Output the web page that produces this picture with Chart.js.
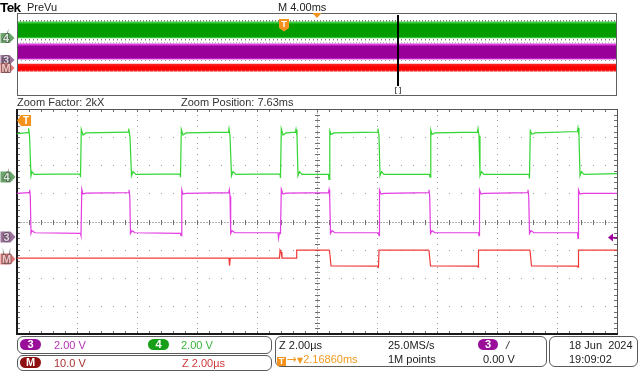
<!DOCTYPE html>
<html><head><meta charset="utf-8">
<script src="https://cdn.jsdelivr.net/npm/chart.js@4.4.1/dist/chart.umd.min.js"></script>
<style>
html,body{margin:0;padding:0;background:#fff;}
body{width:640px;height:384px;position:relative;overflow:hidden;font-family:"Liberation Sans",Arial,sans-serif;font-size:11px;color:#222;}
canvas{position:absolute;left:0;top:0;}
.t{position:absolute;white-space:nowrap;line-height:11px;font-size:11px;}
.box{position:absolute;border:1px solid #5a5a5a;border-radius:6px;box-sizing:border-box;}
.pill{position:absolute;height:11px;border-radius:6px;color:#fff;font-weight:bold;font-size:11px;line-height:11px;text-align:center;}
</style></head><body>
<canvas id="ov" width="640" height="384"></canvas>
<canvas id="main" width="640" height="384"></canvas>

<div class="t" style="left:0;top:0.5px;font-size:13.5px;line-height:13.5px;font-weight:bold;letter-spacing:-0.6px;color:#000">Tek</div>
<div class="t" style="left:27px;top:1.7px">PreVu</div>
<div class="t" style="left:278px;top:1.7px">M 4.00ms</div>
<div class="t" style="left:17px;top:96.7px;color:#333">Zoom Factor: 2kX</div>
<div class="t" style="left:181px;top:96.7px;color:#333">Zoom Position: 7.63ms</div>

<div class="box" style="left:17px;top:336px;width:255px;height:18px"></div>
<div class="box" style="left:17px;top:355px;width:255px;height:16px"></div>
<div class="box" style="left:275px;top:336px;width:272px;height:31px"></div>
<div class="box" style="left:549px;top:336px;width:89px;height:31px"></div>

<div class="pill" style="left:20px;top:339px;width:21px;background:#9a0e9a">3</div>
<div class="t" style="left:54px;top:339.7px;color:#b533b5">2.00 V</div>
<div class="pill" style="left:148px;top:339px;width:21px;background:#17a017">4</div>
<div class="t" style="left:181px;top:339.7px;color:#36b336">2.00 V</div>

<div class="pill" style="left:20px;top:357px;width:21px;background:#8e1010">M</div>
<div class="t" style="left:54px;top:357.7px;color:#a83030">10.0 V</div>
<div class="t" style="left:182px;top:357.7px;color:#cf3a3a">Z 2.00µs</div>

<div class="t" style="left:279px;top:339.7px">Z 2.00µs</div>
<div class="t" style="left:277px;top:353.7px;color:#f29a1e"><span style="display:inline-block;width:9px;height:9px;background:#f5921e;color:#fff;font-weight:bold;font-size:9px;line-height:9px;text-align:center;vertical-align:-1px">T</span><span style="display:inline-block;width:11px;font-family:'DejaVu Sans';font-size:12px;line-height:11px;text-align:center">→</span><span style="font-family:'DejaVu Sans';font-size:8px">▼</span>2.16860ms</div>
<div class="t" style="left:388px;top:339.7px">25.0MS/s</div>
<div class="t" style="left:388px;top:353.7px">1M points</div>
<div class="pill" style="left:478px;top:338.5px;width:20px;background:#9a0e9a">3</div>
<div class="t" style="left:506px;top:339.7px;font-style:italic">/</div>
<div class="t" style="left:483px;top:353.7px">0.00 V</div>

<div class="t" style="left:569px;top:339.7px">18 Jun&nbsp;&nbsp;2024</div>
<div class="t" style="left:569px;top:353.7px">19:09:02</div>

<script>
// ---------- DATA ----------
// Zoomed acquisition window: time in µs from left edge (2 µs/div, 10 div)
const ch4Time = [0,0.367,0.39,0.417,0.467,0.5,0.567,2.1,2.117,2.143,2.2,2.3,3.7,3.723,3.767,3.817,3.867,3.967,5.433,5.45,5.477,5.533,5.633,7.05,7.067,7.1,7.15,7.2,7.3,8.767,8.783,8.81,8.867,8.967,9.283,9.3,9.333,9.367,9.417,9.5,10.383,10.4,10.427,10.467,10.567,12.017,12.033,12.067,12.1,12.15,12.233,13.75,13.767,13.793,13.833,13.933,15.35,15.367,15.4,15.433,15.483,15.567,17.067,17.083,17.11,17.167,17.267,18.683,18.7,18.733,18.767,18.817,18.9,20];
const ch4Volt = [3.05,3.12,3.43,2.9,0.05,0.35,0.15,0.18,-0.05,3.35,2.95,3.1,3.15,3.4,2.8,0.05,0.35,0.15,0.18,-0.05,3.35,2.95,3.1,3.15,3.4,2.9,0.05,0.35,0.15,0.18,-0.1,3.4,2.95,3.1,3.15,3.35,2.9,0.05,0.35,0.15,0.15,-0.2,3.25,3.0,3.1,3.15,3.4,2.9,0.05,0.35,0.15,0.15,-0.05,3.3,3.0,3.1,3.15,3.4,2.9,0.05,0.35,0.15,0.15,-0.15,3.25,3.0,3.1,3.2,3.45,2.9,0.05,0.35,0.15,0.2];

const ch3Time = [0,0.4,0.423,0.443,0.467,0.5,0.6,2.117,2.133,2.16,2.2,2.3,3.717,3.733,3.76,3.783,3.833,3.933,5.45,5.467,5.493,5.533,5.633,7.057,7.077,7.1,7.123,7.167,7.267,8.7,8.717,8.75,8.783,8.81,8.867,8.967,10.383,10.4,10.423,10.45,10.5,10.6,12.05,12.067,12.083,12.133,12.233,13.717,13.733,13.757,13.783,13.833,13.933,15.383,15.4,15.417,15.467,15.567,17.017,17.033,17.057,17.083,17.133,17.233,18.683,18.7,18.717,18.767,18.867,20];
const ch3Volt = [3.1,3.15,3.35,2.9,0.25,0.45,0.3,0.25,0.1,3.4,3.05,3.12,3.15,3.35,2.9,0.25,0.45,0.3,0.25,0.1,3.35,3.05,3.1,3.15,3.35,2.9,0.25,0.45,0.3,0.3,-0.1,0.3,0.25,3.4,3.05,3.12,3.15,3.35,2.9,0.25,0.45,0.3,0.3,0.1,3.35,3.05,3.1,3.15,3.35,2.9,0.25,0.45,0.3,0.3,0.1,3.35,3.05,3.1,3.15,3.35,2.9,0.25,0.45,0.3,0.3,-0.1,3.35,3.05,3.1,3.1];

const mathTime = [0,7.067,7.083,7.11,8.75,8.767,8.8,8.833,9.3,9.323,10.4,10.417,10.467,12.033,12.05,12.067,13.717,13.733,13.783,15.35,15.367,15.383,17.083,17.1,17.15,18.683,18.7,18.717,20];
const mathVolt = [0.25,0.25,-2.4,0.25,0.25,3.2,2.5,0.25,0.3,3.1,3.1,3.0,-2.5,-2.6,-2.9,3.1,3.1,3.0,-2.5,-2.6,-2.9,3.1,3.1,3.0,-2.5,-2.6,-2.9,3.1,3.1];

// Overview (PreVu) record: time in ms relative to trigger (4 ms/div)
const ovTimeRange = [-17.8, 22.2];
const ch4Band = [0.2, 3.1];     const ch4Envelope = [-0.3, 3.45];
const ch3Band = [0.3, 3.1];     const ch3Envelope = [-0.1, 3.4];
const mathBand = [-2.5, 3.1];   const mathEnvelope = [-3.0, null];
const zoomPositionMs = 7.63;
const triggerLevelV = 0.0;

// Vertical settings (V/div) and ground offsets (div above centre)
const voltsPerDiv = {y3: 2.0, y4: 2.0, yM: 10.0};
const groundDiv   = {y3: -0.55, y4: 1.6, yM: -1.33};

// ---------- CHART HELPERS ----------
function yScale(id){
  const v = voltsPerDiv[id], g = groundDiv[id];
  return {type:'linear', display:false, min:(-4-g)*v, max:(4-g)*v};
}
function pts(t, v){ return t.map((x,i)=>({x:x, y:v[i]})); }
function flat(range, y){ return [{x:range[0],y:y},{x:range[1],y:y}]; }

function marker(ctx, x0, y, w, h, fill, txt, label){
  const tip = 5;
  ctx.beginPath();
  ctx.moveTo(x0, y-h/2); ctx.lineTo(x0+w-tip, y-h/2); ctx.lineTo(x0+w, y);
  ctx.lineTo(x0+w-tip, y+h/2); ctx.lineTo(x0, y+h/2); ctx.closePath();
  ctx.fillStyle = fill; ctx.fill();
  ctx.font = 'bold 11px "Liberation Sans", Arial';
  ctx.textAlign = 'center'; ctx.textBaseline = 'middle';
  ctx.lineWidth = 2; ctx.strokeStyle = 'rgba(60,60,60,0.55)';
  ctx.strokeText(label, x0+(w-tip)/2+1, y+0.5);
  ctx.fillStyle = txt; ctx.fillText(label, x0+(w-tip)/2+1, y+0.5);
}

const ORANGE = '#f5921e';
const markerStyle = {
  y4: ['#6ca66c', '#d6e6d6', '4'],
  y3: ['#9a729a', '#e3d3e3', '3'],
  yM: ['#e07a7a', '#f4c4c4', 'M']
};

const mainPlugin = {
  id:'tekMain',
  beforeDatasetsDraw(chart){
    const {ctx, chartArea:a} = chart;
    const L=a.left, T=a.top, R=a.right, B=a.bottom, W=R-L, H=B-T, dx=W/10, dy=H/8;
    ctx.save();
    ctx.fillStyle = '#9a9a9a';
    for (let i=1;i<10;i++){ if(i===5) continue; const x=Math.round(L+i*dx);
      for (let k=1;k<40;k++) ctx.fillRect(x, Math.round(T+k*dy/5), 1, 1); }
    for (let j=1;j<8;j++){ if(j===4) continue; const y=Math.round(T+j*dy);
      for (let k=1;k<50;k++) ctx.fillRect(Math.round(L+k*dx/5), y, 1, 1); }
    const cx=Math.round(L+5*dx), cy=Math.round(T+4*dy);
    ctx.fillStyle = '#b0b0b0';
    for (let x=L; x<R; x+=3) ctx.fillRect(x, cy, 2, 1);
    for (let y=T; y<B; y+=3) ctx.fillRect(cx, y, 1, 2);
    ctx.fillStyle = '#707070';
    for (let k=1;k<50;k++){ const x=Math.round(L+k*dx/5); ctx.fillRect(x, cy-2, 1, 5);
      ctx.fillRect(x, T, 1, 3); ctx.fillRect(x, B-3, 1, 3); }
    for (let k=1;k<40;k++){ const y=Math.round(T+k*dy/5); ctx.fillRect(cx-2, y, 5, 1);
      ctx.fillRect(L, y, 3, 1); ctx.fillRect(R-3, y, 3, 1); }
    ctx.fillStyle = '#555';
    ctx.fillRect(L-1, T, W+1, 1); ctx.fillRect(R, T, 1, H+1);
    ctx.fillStyle = '#1a1a1a';
    ctx.fillRect(L-1, T, 2, H+1); ctx.fillRect(L-1, B-1, W+2, 2);
    ctx.restore();
  },
  afterDraw(chart){
    const {ctx, chartArea:a, scales} = chart;
    ctx.save();
    ['yM','y3','y4'].forEach(id=>{
      const y = Math.round(scales[id].getPixelForValue(0));
      const s = markerStyle[id];
      marker(ctx, 0.5, y, 15, 11, s[0], s[1], s[2]);
    });
    // trigger position (off-screen left) marker
    ctx.beginPath();
    ctx.moveTo(a.left, 120.5); ctx.lineTo(a.left+4, 115); ctx.lineTo(a.left+14, 115);
    ctx.lineTo(a.left+14, 126); ctx.lineTo(a.left+4, 126); ctx.closePath();
    ctx.fillStyle = ORANGE; ctx.fill();
    ctx.fillStyle = '#fff'; ctx.font = 'bold 10px "Liberation Sans", Arial';
    ctx.textAlign = 'center'; ctx.textBaseline = 'middle';
    ctx.fillText('T', a.left+9, 121);
    // trigger level marker on ch3
    const ty = Math.round(scales.y3.getPixelForValue(triggerLevelV));
    ctx.beginPath();
    ctx.moveTo(a.right-9, ty+0.5); ctx.lineTo(a.right-4, ty-3.5); ctx.lineTo(a.right-4, ty+4.5); ctx.closePath();
    ctx.fillStyle = '#a000a0'; ctx.fill();
    ctx.fillRect(a.right-4, ty, 4, 1.5);
    ctx.restore();
  }
};

const ovPlugin = {
  id:'tekOv',
  afterDraw(chart){
    const {ctx, chartArea:a, scales} = chart;
    ctx.save();
    ctx.strokeStyle = '#606060'; ctx.lineWidth = 1;
    ctx.strokeRect(a.left+0.5, a.top-0.5, a.right-a.left-1, a.bottom-a.top+1);
    // zoom window position line
    const zx = Math.round(scales.x.getPixelForValue(zoomPositionMs));
    ctx.fillStyle = '#000';
    ctx.fillRect(zx-1, a.top+1, 2, 71);
    ctx.font = '8px "Liberation Sans", Arial'; ctx.textAlign='center'; ctx.textBaseline='top';
    ctx.fillText('[ ]', zx, a.top+72);
    // trigger marker
    const tx = scales.x.getPixelForValue(0);
    ctx.beginPath();
    ctx.moveTo(tx-5, 19); ctx.lineTo(tx+5, 19); ctx.lineTo(tx+5, 28); ctx.lineTo(tx, 31.5); ctx.lineTo(tx-5, 28); ctx.closePath();
    ctx.fillStyle = ORANGE; ctx.fill();
    ctx.fillStyle = '#fff'; ctx.font = 'bold 9px "Liberation Sans", Arial'; ctx.textBaseline='middle';
    ctx.fillText('T', tx, 24.5);
    // horizontal position (centre) marker
    const cx = (a.left+a.right)/2;
    ctx.beginPath(); ctx.moveTo(cx-4.5, a.top-1); ctx.lineTo(cx+4.5, a.top-1); ctx.lineTo(cx, a.top+4); ctx.closePath();
    ctx.fillStyle = ORANGE; ctx.fill();
    // channel markers
    ['y3','yM','y4'].forEach(id=>{
      const y = Math.round(scales[id].getPixelForValue(0));
      const s = markerStyle[id];
      marker(ctx, 0.5, y, 14, 10, s[0], s[1], s[2]);
    });
    ctx.restore();
  }
};

const traceDefaults = {borderWidth:1.2, pointRadius:0, tension:0, fill:false};

new Chart(document.getElementById('main'), {
  type:'line',
  data:{datasets:[
    Object.assign({data:pts(mathTime, mathVolt), yAxisID:'yM', borderColor:'#f03a3a'}, traceDefaults),
    Object.assign({data:pts(ch3Time, ch3Volt), yAxisID:'y3', borderColor:'#e23ce2'}, traceDefaults),
    Object.assign({data:pts(ch4Time, ch4Volt), yAxisID:'y4', borderColor:'#33d633'}, traceDefaults)
  ]},
  options:{
    responsive:false, animation:false, events:[],
    layout:{padding:{left:17, top:109, right:23, bottom:50}},
    plugins:{legend:{display:false}, tooltip:{enabled:false}},
    scales:{
      x:{type:'linear', display:false, min:0, max:20},
      y3:yScale('y3'), y4:yScale('y4'), yM:yScale('yM')
    }
  },
  plugins:[mainPlugin]
});

function bandSets(band, env, id, fillCol, edgeCol, envCol){
  const sets = [];
  if (env[1] !== null) sets.push({data:flat(ovTimeRange, env[1]), yAxisID:id, borderColor:envCol, borderWidth:1, borderDash:[1,2], pointRadius:0, fill:false});
  if (env[0] !== null) sets.push({data:flat(ovTimeRange, env[0]), yAxisID:id, borderColor:envCol, borderWidth:1, borderDash:[1,3], pointRadius:0, fill:false});
  sets.push({data:flat(ovTimeRange, band[1]), yAxisID:id, borderColor:edgeCol, borderWidth:2, pointRadius:0, fill:'+1', backgroundColor:fillCol});
  sets.push({data:flat(ovTimeRange, band[0]), yAxisID:id, borderColor:edgeCol, borderWidth:2, pointRadius:0, fill:false});
  return sets;
}

new Chart(document.getElementById('ov'), {
  type:'line',
  data:{datasets:[].concat(
    bandSets(ch4Band, ch4Envelope, 'y4', '#009c00', '#3ccf3c', '#333'),
    bandSets(ch3Band, ch3Envelope, 'y3', '#990099', '#e040e0', '#999'),
    bandSets(mathBand, mathEnvelope, 'yM', '#ff0000', '#ff2020', '#c8c8c8')
  )},
  options:{
    responsive:false, animation:false, events:[],
    layout:{padding:{left:17, top:14, right:23, bottom:289}},
    plugins:{legend:{display:false}, tooltip:{enabled:false}},
    scales:{
      x:{type:'linear', display:false, min:ovTimeRange[0], max:ovTimeRange[1]},
      y3:yScale('y3'), y4:yScale('y4'), yM:yScale('yM')
    }
  },
  plugins:[ovPlugin]
});
</script>
</body></html>
